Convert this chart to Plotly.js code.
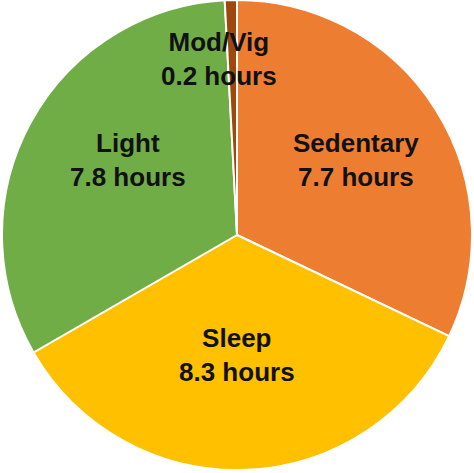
<!DOCTYPE html>
<html>
<head>
<meta charset="utf-8">
<script src="https://cdn.plot.ly/plotly-3.0.1.min.js"></script>
<style>html,body{margin:0;padding:0;background:#fff;}#chart{width:474px;height:473px;}</style>
</head>
<body>
<div id="chart"></div>
<script>
const categories = ["Sedentary", "Sleep", "Light", "Mod/Vig"];
const hours = [7.7, 8.3, 7.8, 0.2];
const unit = "hours";
const sliceColors = ["#ED7D31", "#FFC000", "#70AD47", "#9E480E"];
// label anchor positions (paper coords), one per category
const labelX = [0.753, 0.5, 0.268, 0.462];
const labelY = [0.660, 0.245, 0.660, 0.874];

const trace = {
  type: "pie",
  labels: categories,
  values: hours,
  sort: false,
  direction: "clockwise",
  rotation: 0,
  textinfo: "none",
  hoverinfo: "label+value",
  marker: {colors: sliceColors, line: {color: "#ffffff", width: 2}},
  showlegend: false
};

const annotations = categories.map((c, i) => ({
  xref: "paper", yref: "paper",
  x: labelX[i], y: labelY[i],
  xanchor: "center", yanchor: "middle",
  showarrow: false,
  text: c + "<br>" + hours[i].toFixed(1) + " " + unit,
  font: {family: "Liberation Sans, Arial, sans-serif", size: 26, color: "#111111", weight: "bold"}
}));

const layout = {
  width: 474, height: 473,
  margin: {l: 2, r: 2, t: 0, b: 3},
  paper_bgcolor: "#ffffff",
  plot_bgcolor: "#ffffff",
  showlegend: false,
  annotations: annotations
};

Plotly.newPlot("chart", [trace], layout, {displayModeBar: false, staticPlot: true});
</script>
</body>
</html>
